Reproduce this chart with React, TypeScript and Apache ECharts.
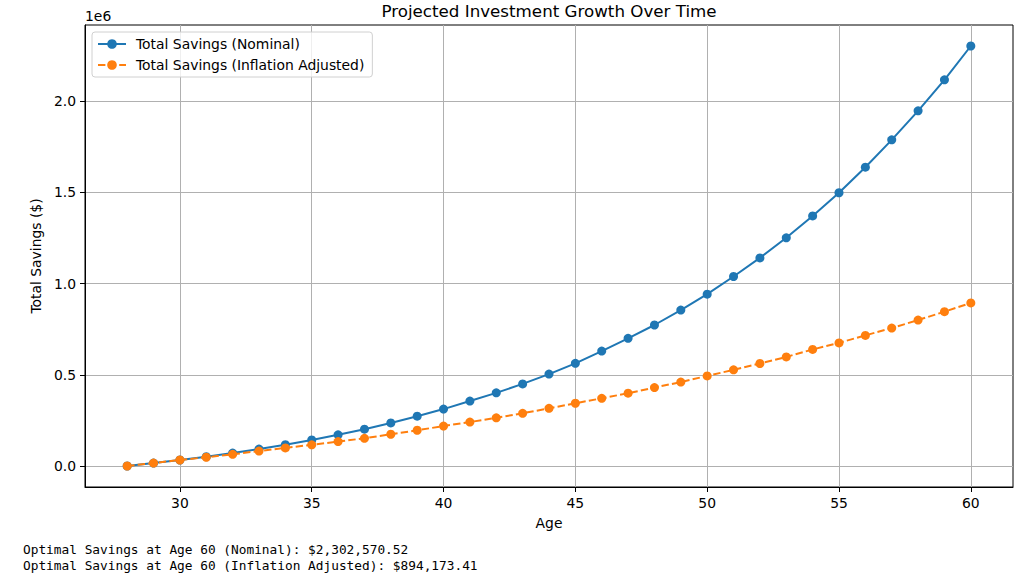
import React, { useEffect, useRef } from "react";
import * as echarts from "echarts";

// Age in years
const ages = [
  28, 29, 30, 31, 32, 33, 34, 35, 36, 37, 38, 39, 40, 41, 42, 43, 44,
  45, 46, 47, 48, 49, 50, 51, 52, 53, 54, 55, 56, 57, 58, 59, 60,
];

// Total savings, nominal dollars
const nominalSavings = [
  0, 16000, 33000, 51000, 71000, 93000, 117000, 143000, 171000, 202000,
  236000, 273000, 312000, 356000, 401000, 450000, 504000, 563000, 630000,
  700000, 773000, 855000, 942000, 1039000, 1141000, 1251000, 1371000,
  1498000, 1638000, 1788000, 1947000, 2117000, 2302570.52,
];

// Total savings, adjusted for inflation
const adjustedSavings = [
  0, 16000, 33000, 48000, 64000, 82000, 99000, 116000, 134000, 152000,
  174000, 196000, 219000, 241000, 264000, 289000, 316000, 344000, 371000,
  399000, 430000, 460000, 494000, 527000, 562000, 598000, 639000, 675000,
  716000, 756000, 800000, 846000, 894173.41,
];

const xTicks = [30, 35, 40, 45, 50, 55, 60];
const yTicks = [0, 500000, 1000000, 1500000, 2000000];

const chartTitle = "Projected Investment Growth Over Time";
const summaryLines = [
  "Optimal Savings at Age 60 (Nominal): $2,302,570.52",
  "Optimal Savings at Age 60 (Inflation Adjusted): $894,173.41",
];

const FONT = "DejaVu Sans, sans-serif";
const MONO = "DejaVu Sans Mono, monospace";
const FS = 13.9;

export default function App() {
  const ref = useRef<HTMLDivElement>(null);

  useEffect(() => {
    if (!ref.current) return;
    const chart = echarts.init(ref.current, undefined, { renderer: "svg" });

    const span = ages[ages.length - 1] - ages[0];
    const xMin = ages[0] - 0.05 * span;
    const xMax = ages[ages.length - 1] + 0.05 * span;
    const yTop = Math.max(...nominalSavings);
    const yMin = -0.05 * yTop;
    const yMax = yTop * 1.05;

    const tickStyle = { show: true, inside: false, length: 5, lineStyle: { color: "#000", width: 1 } };

    chart.setOption({
      animation: false,
      backgroundColor: "#fff",
      legend: {
        left: 92,
        top: 32,
        orient: "vertical",
        itemWidth: 28,
        itemHeight: 12,
        itemGap: 7,
        padding: [5, 8, 5, 5],
        backgroundColor: "rgba(255,255,255,0.8)",
        borderColor: "#d0d0d0",
        borderWidth: 1,
        borderRadius: 3,
        textStyle: { fontFamily: FONT, fontSize: FS, color: "#000", padding: [0, 0, 0, 5] },
        data: ["Total Savings (Nominal)", "Total Savings (Inflation Adjusted)"],
      },
      grid: {
        left: 85,
        right: 17,
        top: 25,
        bottom: 87,
        show: true,
        borderColor: "#000",
        borderWidth: 1,
        backgroundColor: "transparent",
      },
      xAxis: {
        type: "value",
        min: xMin,
        max: xMax,
        name: "Age",
        nameLocation: "middle",
        nameGap: 29,
        nameTextStyle: { fontFamily: FONT, fontSize: FS, color: "#000" },
        axisLine: { show: true, onZero: false, lineStyle: { color: "#000", width: 1 } },
        axisTick: { ...tickStyle, customValues: xTicks },
        axisLabel: {
          customValues: xTicks,
          fontFamily: FONT,
          fontSize: FS,
          color: "#000",
          margin: 9,
        },
        splitLine: { show: true, lineStyle: { color: "#b0b0b0", width: 1 } },
      },
      yAxis: {
        type: "value",
        min: yMin,
        max: yMax,
        name: "Total Savings ($)",
        nameLocation: "middle",
        nameGap: 40,
        nameRotate: 90,
        nameTextStyle: { fontFamily: FONT, fontSize: FS, color: "#000" },
        axisLine: { show: true, onZero: false, lineStyle: { color: "#000", width: 1 } },
        axisTick: { ...tickStyle, customValues: yTicks },
        axisLabel: {
          customValues: yTicks,
          fontFamily: FONT,
          fontSize: FS,
          color: "#000",
          margin: 9,
          formatter: (v: number) => (v / 1e6).toFixed(1),
        },
        splitLine: { show: true, lineStyle: { color: "#b0b0b0", width: 1 } },
      },
      graphic: [
        {
          type: "text",
          x: 549,
          y: 11,
          style: {
            text: chartTitle,
            fontFamily: FONT,
            fontSize: 16.7,
            fill: "#000",
            textAlign: "center",
            textVerticalAlign: "middle",
          },
        },
        {
          type: "text",
          x: 85,
          y: 16,
          style: { text: "1e6", fontFamily: FONT, fontSize: FS, fill: "#000", textVerticalAlign: "middle" },
        },
        ...summaryLines.map((line, i) => ({
          type: "text",
          x: 23,
          y: 549 + i * 16.6,
          style: { text: line, fontFamily: MONO, fontSize: 12.8, fill: "#000", textVerticalAlign: "middle" },
        })),
      ],
      series: [
        {
          name: "Total Savings (Nominal)",
          type: "line",
          data: ages.map((a, i) => [a, nominalSavings[i]]),
          symbol: "circle",
          symbolSize: 9,
          showAllSymbol: true,
          itemStyle: { color: "#1f77b4" },
          lineStyle: { color: "#1f77b4", width: 2 },
          z: 3,
        },
        {
          name: "Total Savings (Inflation Adjusted)",
          type: "line",
          data: ages.map((a, i) => [a, adjustedSavings[i]]),
          symbol: "circle",
          symbolSize: 9,
          showAllSymbol: true,
          itemStyle: { color: "#ff7f0e" },
          lineStyle: { color: "#ff7f0e", width: 2, type: [7.4, 3.2] },
          z: 4,
        },
      ],
    });

    return () => chart.dispose();
  }, []);

  return (
    <div
      ref={ref}
      style={{ position: "fixed", left: 0, top: 0, width: 1030, height: 574 }}
    />
  );
}
